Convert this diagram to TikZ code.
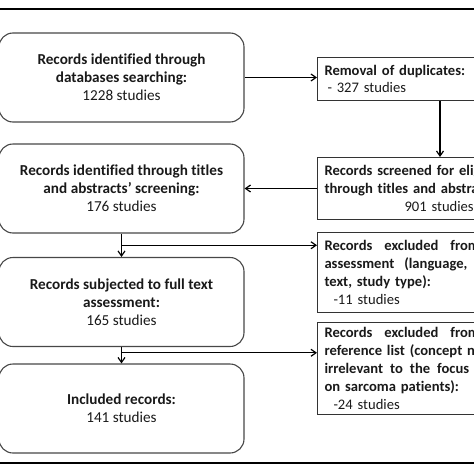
\documentclass[tikz,border=0pt]{standalone}
\usepackage{fontspec}
\setmainfont{Carlito}[Ligatures=NoCommon]
\usetikzlibrary{arrows.meta,calc}
\begin{document}
\begin{tikzpicture}[x=1pt,y=-1pt,
  ltxt/.style={font=\fontsize{15.2}{18}\selectfont, text=black!90},
  rtxt/.style={font=\fontsize{14.6}{17.8}\selectfont, text=black!90},
  lbox/.style={ltxt, draw=black!72, line width=1.1pt, rounded corners=14pt,
    minimum width=245pt, minimum height=89pt, align=center, inner sep=0pt},
  rbox/.style={rtxt, draw=black!80, line width=1pt, anchor=north west,
    text width=280pt, inner xsep=7pt, inner ysep=0pt, align=left},
  arr/.style={-{Straight Barb[length=5pt,width=7pt]}, line width=1.2pt, black},
  rule/.style={line width=2.6pt, black}]
\useasboundingbox (0,0) rectangle (474,474);
\clip (0,0) rectangle (474,474);
\draw[rule] (-5,9) coordinate (tl) -- (480,9) coordinate (tr);
\draw[rule] (-5,463) coordinate (bl) -- (480,463) coordinate (br);
\node[lbox] (b1) at (121.5,77.5) {\textbf{Records identified through}\\\textbf{databases searching:}\\1228 studies};
\node[lbox] (b2) at (121.5,188.5) {\textbf{Records identified through titles}\\\textbf{and abstracts’ screening:}\\176 studies};
\node[lbox] (b3) at (121.5,302) {\textbf{Records subjected to full text}\\\textbf{assessment:}\\165 studies};
\node[lbox] (b4) at (121.5,408.5) {\textbf{Included records:}\\141 studies};
\node[rbox, minimum height=43pt] (r1) at (317,57) {\textbf{Removal of duplicates:}\\\hspace*{3pt}- 327 studies};
\node[rbox, minimum height=62pt] (r2) at (317,157) {\textbf{Records screened for eligibility}\\\textbf{through titles and abstracts:}\\\hspace*{80pt}901 studies};
\node[rbox, minimum height=80pt] (r3) at (317,232) {\textbf{Records\hspace{12pt}excluded\hspace{12pt}from\hspace{12pt}full text}\\\textbf{assessment\hspace{10pt}(language,\hspace{10pt}full}\\\textbf{text, study type):}\\\hspace*{9pt}-11 studies};
\node[rbox, minimum height=92pt] (r4) at (317,322) {\textbf{Records\hspace{12pt}excluded\hspace{12pt}from\hspace{12pt}the}\\\textbf{reference list (concept not}\\\textbf{irrelevant\hspace{7pt}to\hspace{7pt}the\hspace{7pt}focus}\\\textbf{on sarcoma patients):}\\\hspace*{9pt}-24 studies};
\draw[arr] (b1.east) -- (b1.east -| r1.west);
\draw[arr] ($(r1.south west)+(123,0)$) -- ($(r2.north west)+(123,0)$);
\draw[arr] (r2.west) -- (r2.west -| b2.east);
\coordinate (j1) at ($(b2.south)!0.5!(b3.north)$);
\draw[arr] (b2.south) -- (b3.north);
\draw[arr] (j1) -- (j1 -| r3.west);
\coordinate (j2) at ($(b3.south)!0.35!(b4.north)$);
\draw[arr] (b3.south) -- (b4.north);
\draw[arr] (j2) -- (j2 -| r4.west);
\end{tikzpicture}
\end{document}
